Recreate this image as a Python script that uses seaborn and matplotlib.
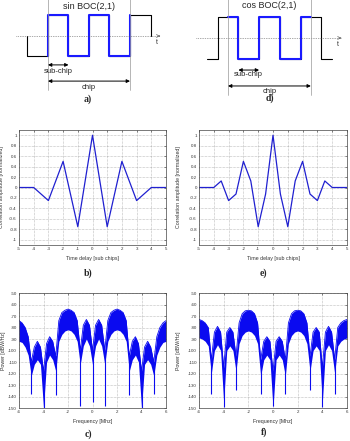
import numpy as np
import matplotlib
matplotlib.use("Agg")
import matplotlib.pyplot as plt
import seaborn as sns

# --- waveform data (levels per segment, edges in sub-chips) ---
sin_pre_edges, sin_pre_levels = [-1, 0], [-1]
sin_chip_edges, sin_chip_levels = [0, 1, 2, 3, 4], [1, -1, 1, -1]
sin_post_edges, sin_post_levels = [4, 5], [1]

cos_pre_edges, cos_pre_levels = [-1, -0.5, 0], [-1, 1]
cos_chip_edges, cos_chip_levels = [0, 0.5, 1.5, 2.5, 3.5, 4], [1, -1, 1, -1, 1]
cos_post_edges, cos_post_levels = [4, 4.5, 5], [1, -1]

# --- autocorrelation ---
sin_lag = [-5, -4, -3, -2, -1, 0, 1, 2, 3, 4, 5]
sin_acf = [0, 0, -0.25, 0.5, -0.75, 1, -0.75, 0.5, -0.25, 0, 0]
cos_lag = [-5, -4, -3.5, -3, -2.5, -2, -1.5, -1, -0.5, 0, 0.5, 1, 1.5, 2, 2.5, 3, 3.5, 4, 5]
cos_acf = [0, 0, 0.125, -0.25, -0.125, 0.5, 0.125, -0.75, -0.125, 1,
           -0.125, -0.75, 0.125, 0.5, -0.125, -0.25, 0.125, 0, 0]

# --- spectra: band envelopes (dB) on a 0.25 MHz grid, -6..6 ---
freq = [-6, -5.75, -5.5, -5.25, -5, -4.75, -4.5, -4.25, -4, -3.75, -3.5, -3.25, -3,
        -2.75, -2.5, -2.25, -2, -1.75, -1.5, -1.25, -1, -0.75, -0.5, -0.25, 0,
        0.25, 0.5, 0.75, 1, 1.25, 1.5, 1.75, 2, 2.25, 2.5, 2.75, 3,
        3.25, 3.5, 3.75, 4, 4.25, 4.5, 4.75, 5, 5.25, 5.5, 5.75, 6]
sin_upper = [-74, -76, -80, -88, -110, -97, -92, -97, -118, -94, -88, -92, -105,
             -74, -67, -65, -64, -65, -67, -74, -100, -78, -73, -78, -100,
             -78, -73, -78, -100, -74, -67, -65, -64, -65, -67, -74, -105,
             -92, -88, -94, -118, -97, -92, -97, -110, -88, -80, -76, -74]
sin_lower = [-92, -93, -97, -104, -122, -112, -108, -112, -150, -110, -104, -108, -118,
             -92, -86, -83, -82, -83, -86, -92, -112, -96, -90, -96, -112,
             -96, -90, -96, -112, -92, -86, -83, -82, -83, -86, -92, -118,
             -108, -104, -110, -150, -112, -108, -112, -122, -104, -97, -93, -92]
sin_null_f = [-5, -4, -3, -1, 0, 1, 3, 4, 5]
sin_null_db = [-138, -150, -139, -148, -145, -148, -139, -150, -138]

cos_upper = [-73, -74, -76, -80, -108, -84, -79, -84, -115, -84, -80, -84, -105,
             -76, -68, -65.5, -65, -65.5, -68, -76, -108, -92, -88, -92, -118,
             -92, -88, -92, -108, -76, -68, -65.5, -65, -65.5, -68, -76, -105,
             -84, -80, -84, -115, -84, -79, -84, -108, -80, -76, -74, -73]
cos_lower = [-89, -90, -92, -96, -120, -100, -95, -100, -145, -100, -96, -100, -118,
             -94, -87, -84, -83, -84, -87, -94, -122, -108, -104, -108, -150,
             -108, -104, -108, -122, -94, -87, -84, -83, -84, -87, -94, -118,
             -100, -96, -100, -145, -100, -95, -100, -120, -96, -92, -90, -89]
cos_null_f = [-5, -4, -3, -1, 0, 1, 3, 4, 5]
cos_null_db = [-138, -149, -134, -138, -148, -138, -134, -149, -138]

sns.set_style("white")
plt.rcParams["font.family"] = ["Liberation Sans", "DejaVu Sans"]

W, H = 350, 441
fig = plt.figure(figsize=(W / 100, H / 100), dpi=100)
BLUE = "#0a0af0"


def px_axes(x0, y0, x1, y1):
    return fig.add_axes([x0 / W, 1 - y1 / H, (x1 - x0) / W, (y1 - y0) / H])


def steps(edges, levels, start=None, end=None):
    xs, ys = [], []
    if start is not None:
        xs.append(edges[0]); ys.append(start)
    for i, v in enumerate(levels):
        xs += [edges[i], edges[i + 1]]
        ys += [v, v]
    if end is not None:
        xs.append(edges[-1]); ys.append(end)
    return xs, ys


def waveform(ax, pre, chip, post, ends, title, sub, ylev):
    edges = pre[0][:-1] + chip[0] + post[0][1:]
    levels = pre[1] + chip[1] + post[1]
    xs, ys = steps(edges, levels, ends, ends)
    ax.plot(xs, ys, color="k", lw=0.8)
    xs, ys = steps(chip[0], chip[1], pre[1][-1], post[1][0])
    ax.plot(xs, ys, color="#1a1aff", lw=1.5)
    ax.plot([-1.55, 5.45], [0, 0], color="#555", lw=0.5, ls=(0, (1, 1.5)))
    ax.annotate("", xy=(5.6, 0), xytext=(5.3, 0),
                arrowprops=dict(arrowstyle="->", lw=0.5, color="#555", mutation_scale=5))
    ax.text(5.3, -0.3, "t", fontsize=5, ha="center", va="center", color="#333")
    for t in (chip[0][0], chip[0][-1]):
        ax.plot([t, t], [3, ylev[4]], color="#999", lw=0.5)
    arr = dict(arrowstyle="<|-|>", lw=0.7, color="k", mutation_scale=5, shrinkA=0, shrinkB=0)
    ax.annotate("", xy=(sub[1], ylev[0]), xytext=(sub[0], ylev[0]), arrowprops=arr)
    ax.text((sub[0] + sub[1]) / 2, ylev[1], "sub-chip", fontsize=5.5, ha="center", va="center")
    ax.annotate("", xy=(chip[0][-1], ylev[2]), xytext=(chip[0][0], ylev[2]), arrowprops=arr)
    ax.text(2, ylev[3], "chip", fontsize=5.5, ha="center", va="center")
    ax.text(2, ylev[5], title, fontsize=6.5, ha="center", va="center")
    ax.axis("off")


ax_a = px_axes(0, 0, 175, 105)
ax_a.set_xlim(-2.341, 6.195)
ax_a.set_ylim(-3.366, 1.756)
waveform(ax_a, (sin_pre_edges, sin_pre_levels), (sin_chip_edges, sin_chip_levels),
         (sin_post_edges, sin_post_levels), 0, "sin BOC(2,1)", (0, 1),
         (-1.41, -1.72, -2.2, -2.5, -2.65, 1.46))

ax_d = px_axes(175, 0, 350, 105)
ax_d.set_xlim(-2.56, 5.89)
ax_d.set_ylim(-3.24, 1.836)
waveform(ax_d, (cos_pre_edges, cos_pre_levels), (cos_chip_edges, cos_chip_levels),
         (cos_post_edges, cos_post_levels), None, "cos BOC(2,1)", (0.5, 1.5),
         (-1.55, -1.76, -2.32, -2.57, -2.75, 1.55))


def style(ax, xticks, yticks, xlim, ylim, xlabel, ylabel, ylab_x):
    ax.set_xlim(xlim)
    ax.set_ylim(ylim)
    ax.set_xticks(xticks)
    ax.set_yticks(yticks)
    ax.set_xticklabels([f"{v:g}" for v in xticks])
    ax.set_yticklabels([f"{v:g}" for v in yticks])
    ax.tick_params(direction="in", length=1.5, width=0.4, labelsize=3.2, pad=1.5,
                   top=True, right=True, colors="#333")
    ax.grid(True, ls=(0, (1, 1.5)), lw=0.4, color="#888")
    for s in ax.spines.values():
        s.set_linewidth(0.5)
        s.set_color("#444")
    ax.set_xlabel(xlabel, fontsize=3.8, color="#333")
    ax.set_ylabel(ylabel, fontsize=3.8, color="#333")
    ax.xaxis.set_label_coords(0.5, -0.096)
    ax.yaxis.set_label_coords(ylab_x, 0.5)


acf_ticks = [-1, -0.8, -0.6, -0.4, -0.2, 0, 0.2, 0.4, 0.6, 0.8, 1]
for (x0, x1, ylx), lag, acf in [((19, 166, -0.10), sin_lag, sin_acf),
                                ((199, 347, -0.12), cos_lag, cos_acf)]:
    ax = px_axes(x0, 130, x1, 245)
    sns.lineplot(x=lag, y=acf, ax=ax, color="#2020d0", lw=0.9, sort=False)
    style(ax, list(range(-5, 6)), acf_ticks, (-5, 5), (-1.1, 1.1),
          "Time delay [sub chips]", "Correlation amplitude [normalized]", ylx)

psd_ticks = list(range(-150, -40, 10))
for (x0, x1, ylx), up, lo, nf, nd in [((19, 166, -0.09), sin_upper, sin_lower, sin_null_f, sin_null_db),
                                      ((199, 347, -0.12), cos_upper, cos_lower, cos_null_f, cos_null_db)]:
    ax = px_axes(x0, 293, x1, 408)
    ax.fill_between(freq, lo, up, color=BLUE, lw=0)
    sns.lineplot(x=freq, y=up, ax=ax, color=BLUE, lw=0.6)
    tops = np.interp(nf, freq, up)
    ax.vlines(nf, nd, tops, color=BLUE, lw=0.8)
    style(ax, [-6, -4, -2, 0, 2, 4, 6], psd_ticks, (-6, 6), (-150, -50),
          "Frequency [Mhz]", "Power [dBW/Hz]", ylx)

for x, y, lab in [(88, 99, "a)"), (270, 98, "d)"), (88, 273, "b)"), (263, 273, "e)"),
                  (88, 434, "c)"), (264, 432, "f)")]:
    fig.text(x / W, 1 - y / H, lab, fontsize=7, fontweight="bold", ha="center", va="center",
             family=["Liberation Serif", "DejaVu Serif"])

fig.savefig("out.png", dpi=100)
